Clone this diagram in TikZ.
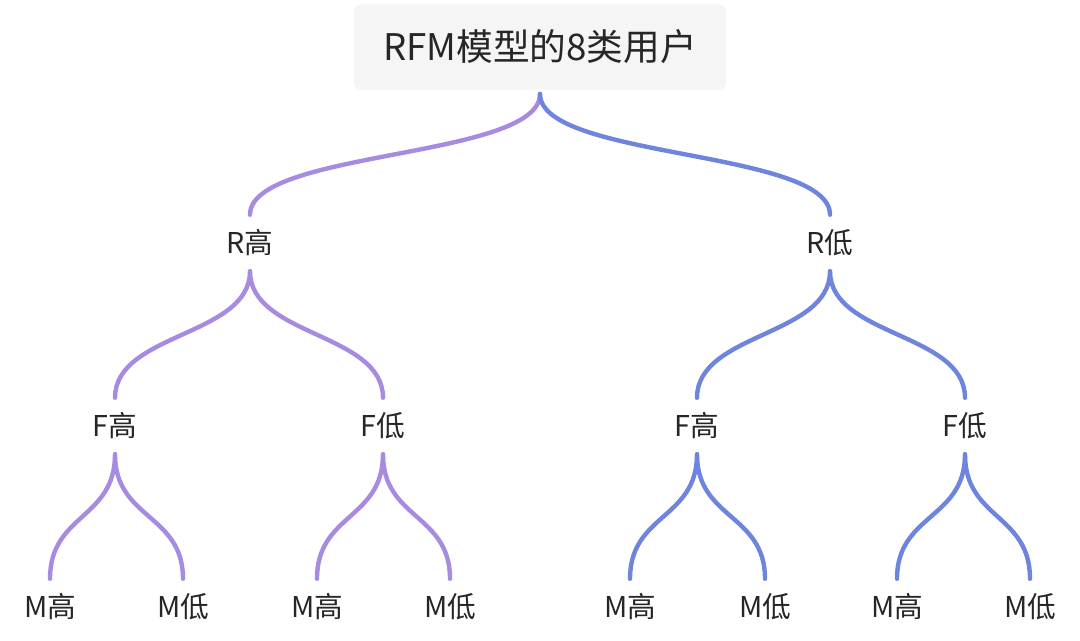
\documentclass[tikz,border=0pt]{standalone}
\usepackage{fontspec}
\setmainfont{Noto Sans CJK SC}
\definecolor{lila}{HTML}{A78BE0}
\definecolor{blau}{HTML}{6F84DD}
\tikzset{
  lab/.style={inner sep=0pt, minimum height=42pt, font=\fontsize{21.5}{23}\selectfont, text=black!85},
  br/.style={line width=3.3pt, line cap=round},
}
\begin{document}
\begin{tikzpicture}[x=0.75pt, y=-0.75pt]
\useasboundingbox (0,0) rectangle (1080,641);
% Root
\node[fill=black!4, rounded corners=5pt, minimum width=279pt, minimum height=64pt,
      inner sep=0pt, font=\fontsize{27.5}{29}\selectfont, text=black!85] (root) at (540,47) {RFM模型的8类用户};
% Levels
\node[lab] (rh) at (250,243) {R高};
\node[lab] (rl) at (830,243) {R低};
\node[lab] (fhh) at (115,426) {F高};
\node[lab] (fhl) at (383,426) {F低};
\node[lab] (flh) at (697,426) {F高};
\node[lab] (fll) at (965,426) {F低};
\node[lab] (m1) at (50,607) {M高};
\node[lab] (m2) at (183,607) {M低};
\node[lab] (m3) at (317,607) {M高};
\node[lab] (m4) at (450,607) {M低};
\node[lab] (m5) at (630,607) {M高};
\node[lab] (m6) at (765,607) {M低};
\node[lab] (m7) at (897,607) {M高};
\node[lab] (m8) at (1030,607) {M低};
% Branches
\draw[br, lila] ([yshift=-3pt]root.south) .. controls +(0,65) and +(0,-65) .. (rh.north);
\draw[br, blau] ([yshift=-3pt]root.south) .. controls +(0,65) and +(0,-65) .. (rl.north);
\foreach \p/\a/\b/\c in {rh/fhh/fhl/lila, rl/flh/fll/blau, fhh/m1/m2/lila, fhl/m3/m4/lila, flh/m5/m6/blau, fll/m7/m8/blau}{
  \draw[br, \c] (\p.south) .. controls +(0,65) and +(0,-65) .. (\a.north);
  \draw[br, \c] (\p.south) .. controls +(0,65) and +(0,-65) .. (\b.north);
}
\end{tikzpicture}
\end{document}
